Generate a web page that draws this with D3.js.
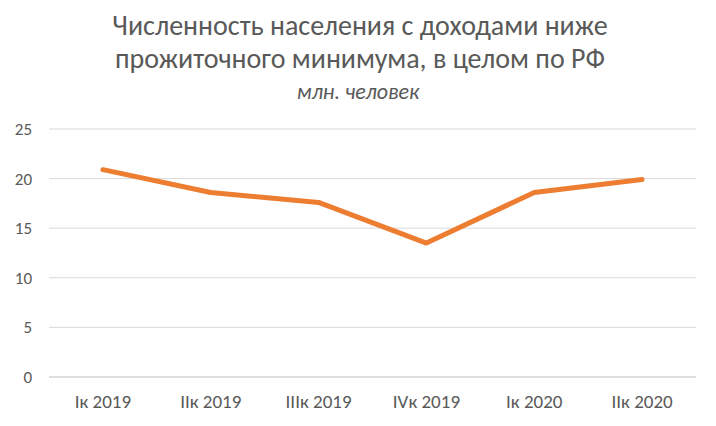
<!DOCTYPE html>
<html><head><meta charset="utf-8">
<script src="https://cdn.jsdelivr.net/npm/d3@7"></script>
<style>body{margin:0;background:#fff}</style></head>
<body><svg id="c" width="716" height="426"></svg>
<script>
const categories = ["Iк 2019","IIк 2019","IIIк 2019","IVк 2019","Iк 2020","IIк 2020"];
const values = [20.9, 18.6, 17.6, 13.5, 18.6, 19.9];
const yTicks = [0,5,10,15,20,25];
const titleLines = ["Численность населения с доходами ниже","прожиточного минимума, в целом по РФ"];
const subtitle = "млн. человек";

const svg = d3.select("#c");
const font = "Calibri, Carlito, 'Liberation Sans', Arial, sans-serif";
const x = d3.scaleBand().domain(categories).range([49, 696]);
const y = d3.scaleLinear().domain([0,25]).range([377,129]);

titleLines.forEach((t,i)=>svg.append("text").attr("x",360).attr("y",35+i*33)
  .attr("text-anchor","middle").attr("font-family",font).attr("font-size",28)
  .attr("fill","#595959").text(t));
svg.append("text").attr("x",358).attr("y",99).attr("text-anchor","middle")
  .attr("font-family",font).attr("font-size",22).attr("font-style","italic")
  .attr("fill","#595959").text(subtitle);

svg.append("g").selectAll("line").data(yTicks).join("line")
  .attr("x1",49).attr("x2",696).attr("y1",d=>y(d)).attr("y2",d=>y(d))
  .attr("stroke",d=>d===0?"#bfbfbf":"#d9d9d9").attr("stroke-width",1);
svg.append("g").selectAll("text").data(yTicks).join("text")
  .attr("x",32).attr("y",d=>y(d)+6).attr("text-anchor","end")
  .attr("font-family",font).attr("font-size",17).attr("fill","#595959").text(d=>d);
svg.append("g").selectAll("text").data(categories).join("text")
  .attr("x",d=>x(d)+x.bandwidth()/2).attr("y",408).attr("text-anchor","middle")
  .attr("font-family",font).attr("font-size",19).attr("fill","#595959").text(d=>d);

const line = d3.line().x((d,i)=>x(categories[i])+x.bandwidth()/2).y(d=>y(d));
svg.append("path").datum(values).attr("d",line).attr("fill","none")
  .attr("stroke","#ED7D31").attr("stroke-width",5).attr("stroke-linecap","round").attr("stroke-linejoin","round");
</script></body></html>
